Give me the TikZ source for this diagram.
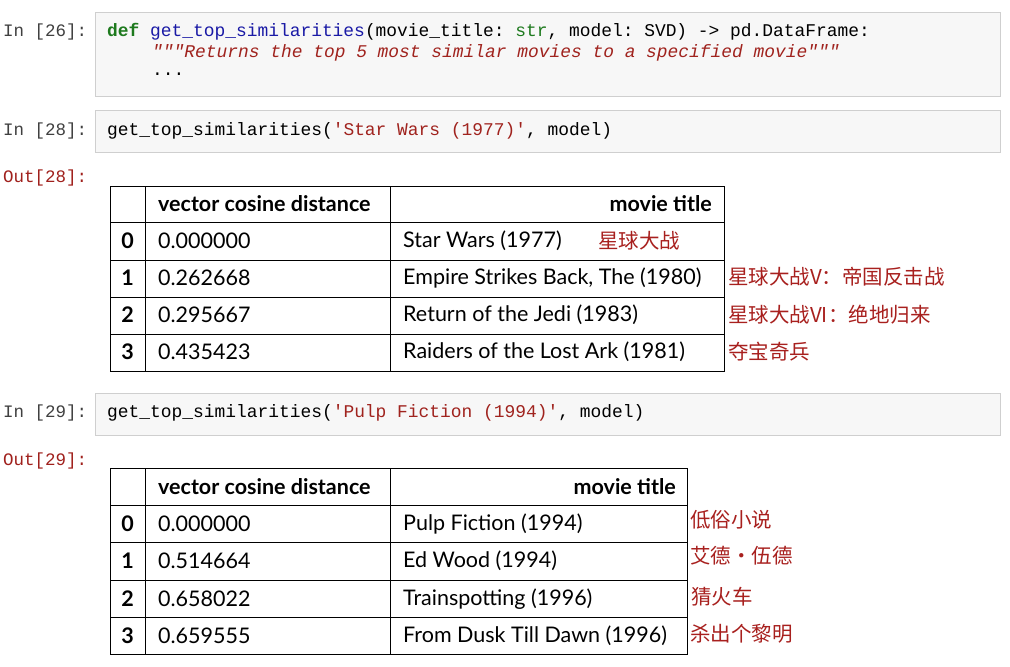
\documentclass[tikz,border=0pt]{standalone}
\usepackage{fontspec}
\setmainfont{Lato}
\setmonofont{Liberation Mono}
\newfontfamily\cjk{Noto Sans CJK SC}
\definecolor{cellbg}{HTML}{F7F7F7}
\definecolor{cellbd}{HTML}{CFCFCF}
\definecolor{outred}{HTML}{A0201C}
\definecolor{fnblue}{HTML}{1A1AA6}
\definecolor{kwgreen}{HTML}{1E7A1E}
\definecolor{strred}{HTML}{A0231E}
\definecolor{annred}{HTML}{A8201E}
\begin{document}
\begin{tikzpicture}[x=1pt,y=-1pt,
  code/.style={anchor=west,inner sep=0,font=\ttfamily\fontsize{17.9}{18}\selectfont},
  prompt/.style={anchor=west,inner sep=0,font=\ttfamily\fontsize{17.5}{18}\selectfont,text=black!75},
  cell/.style={draw=cellbd,fill=cellbg},
  td/.style={anchor=west,inner sep=0,font=\fontsize{21.5}{22}\selectfont},
  th/.style={inner sep=0,font=\bfseries\fontsize{21.5}{22}\selectfont},
  ann/.style={anchor=west,inner sep=0,text=annred,font=\cjk\fontsize{20.5}{21}\selectfont}]
\fill[white] (0,0) rectangle (1010,667);
\useasboundingbox (0,0) rectangle (1010,667);
% cells
\draw[cell] (95,12) rectangle (1000,96);
\draw[cell] (95,110) rectangle (1000,152);
\draw[cell] (95,393) rectangle (1000,435);
\node[prompt] (p26) at (3,32) {In [26]:};
\node[prompt] (p28) at (3,131) {In [28]:};
\node[prompt,text=outred] (o28) at (3,178) {Out[28]:};
\node[prompt] (p29) at (3,413) {In [29]:};
\node[prompt,text=outred] (o29) at (3,461) {Out[29]:};
\node[code] (c1) at (107,32) {\textcolor{kwgreen}{\bfseries def} \textcolor{fnblue}{get\_top\_similarities}(movie\_title: \textcolor{kwgreen}{str}, model: SVD) -> pd.DataFrame:};
\node[code,text=strred] (c2) at (152,53) {\itshape """Returns the top 5 most similar movies to a specified movie"""};
\node[code] (c3) at (152,74) {...};
\node[code] (c4) at (107,131) {get\_top\_similarities(\textcolor{strred}{'Star Wars (1977)'}, model)};
\node[code] (c5) at (107,413) {get\_top\_similarities(\textcolor{strred}{'Pulp Fiction (1994)'}, model)};
% table 1
\begin{scope}[line width=1pt]
\draw (110,186) rectangle (724,371);
\foreach \y in {222,260,297,334} \draw (110,\y) -- (724,\y);
\draw (145,186) -- (145,371);
\draw (390,186) -- (390,371);
\end{scope}
\node[th,anchor=west] (h1a) at (158,204) {vector cosine distance};
\node[th,anchor=east] (h1b) at (712,204) {movie title};
\foreach \i/\y/\d/\t in {0/241/0.000000/Star Wars (1977),1/278/0.262668/{Empire Strikes Back, The (1980)},2/315/0.295667/Return of the Jedi (1983),3/352/0.435423/Raiders of the Lost Ark (1981)}{
  \node[th] (ia\i) at (127.5,\y) {\i};
  \node[td] (da\i) at (158,\y) {\d};
  \node[td] (ta\i) at (403,\y) {\t};
}
\node[ann] (a0) at (598,241) {星球大战};
\node[ann] (a1) at (728,277) {星球大战V：帝国反击战};
\node[ann] (a2) at (728,315) {星球大战VI：绝地归来};
\node[ann] (a3) at (728,352) {夺宝奇兵};
% table 2
\begin{scope}[line width=1pt]
\draw (110,468) rectangle (687,654);
\foreach \y in {505,542,580,617} \draw (110,\y) -- (687,\y);
\draw (145,468) -- (145,654);
\draw (390,468) -- (390,654);
\end{scope}
\node[th,anchor=west] (h2a) at (158,487) {vector cosine distance};
\node[th,anchor=east] (h2b) at (676,487) {movie title};
\foreach \i/\y/\d/\t in {0/524/0.000000/Pulp Fiction (1994),1/561/0.514664/Ed Wood (1994),2/599/0.658022/Trainspotting (1996),3/636/0.659555/From Dusk Till Dawn (1996)}{
  \node[th] (ib\i) at (127.5,\y) {\i};
  \node[td] (db\i) at (158,\y) {\d};
  \node[td] (tb\i) at (403,\y) {\t};
}
\node[ann] (b0) at (690,520) {低俗小说};
\node[ann] (b1) at (690,556) {艾德·伍德};
\node[ann] (b2) at (691,597) {猜火车};
\node[ann] (b3) at (690,634) {杀出个黎明};
\end{tikzpicture}
\end{document}
